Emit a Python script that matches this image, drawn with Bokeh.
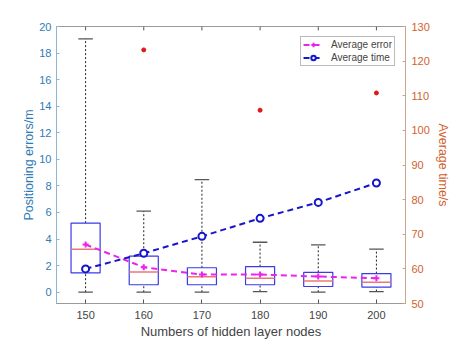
from bokeh.plotting import figure
from bokeh.models import (Range1d, LinearAxis, FixedTicker, Legend, LegendItem,
                          ColumnDataSource)
from bokeh.embed import file_html
from bokeh.resources import INLINE

# ---- data ----
nodes = [150, 160, 170, 180, 190, 200]
q1 = [1.46, 0.56, 0.56, 0.56, 0.43, 0.38]
q3 = [5.20, 2.71, 1.84, 1.93, 1.50, 1.40]
med = [3.24, 1.53, 1.16, 1.05, 0.85, 0.75]
wlo = [0.00, 0.00, 0.00, 0.05, 0.00, 0.05]
whi = [19.07, 6.10, 8.48, 3.76, 3.56, 3.24]
out_nodes = [160, 180, 200]
out_vals = [18.24, 13.70, 15.00]
avg_error = [3.59, 1.88, 1.33, 1.33, 1.18, 1.05]
avg_time = [60.0, 64.5, 69.4, 74.6, 79.2, 84.8]

BLUE_AX = "#2f7bb5"
ORANGE = "#d0622e"
FONT = "Liberation Sans"
YMIN, YMAX = -0.85, 20

pos = list(range(1, len(nodes) + 1))
out_pos = [nodes.index(n) + 1 for n in out_nodes]

p = figure(width=474, height=361, output_backend="svg", toolbar_location=None,
           x_range=Range1d(0.5, 6.5), y_range=Range1d(YMIN, YMAX))
p.min_border_left = 56
p.min_border_right = 69
p.min_border_top = 26
p.min_border_bottom = 58
p.xgrid.visible = False
p.ygrid.visible = False
p.outline_line_color = "#9a9a9a"
p.background_fill_color = "white"
p.border_fill_color = "white"

# x axis
xa = p.xaxis[0]
xa.ticker = FixedTicker(ticks=pos)
xa.major_label_overrides = {i: str(n) for i, n in zip(pos, nodes)}
xa.axis_label = "Numbers of hidden layer nodes"
xa.axis_label_text_font = FONT
xa.axis_label_text_font_size = "13px"
xa.axis_label_text_font_style = "normal"
xa.axis_label_standoff = 2
xa.major_label_text_font = FONT
xa.major_label_text_font_size = "11px"
xa.major_label_standoff = 7
xa.axis_line_color = "#9a9a9a"
xa.major_tick_line_color = "#555555"
xa.major_tick_in = 4
xa.major_tick_out = 0
xa.minor_tick_line_color = None

# top tick marks (inward from the top edge)
tick_len = (YMAX - YMIN) * 0.014
p.segment(x0=pos, x1=pos, y0=[YMAX] * len(pos), y1=[YMAX - tick_len] * len(pos),
          line_color="#555555", line_width=1)

# left axis
ya = p.yaxis[0]
ya.ticker = FixedTicker(ticks=list(range(0, 21, 2)))
ya.axis_label = "Positioning errors/m"
ya.axis_label_text_font = FONT
ya.axis_label_text_font_size = "12.5px"
ya.axis_label_text_font_style = "normal"
ya.axis_label_text_color = BLUE_AX
ya.axis_label_standoff = 0
ya.major_label_text_font = FONT
ya.major_label_text_font_size = "11px"
ya.major_label_text_color = BLUE_AX
ya.major_label_standoff = 5
ya.axis_line_color = "#8fb3d3"
ya.major_tick_line_color = "#8fb3d3"
ya.major_tick_in = 3
ya.major_tick_out = 0
ya.minor_tick_line_color = None

# right axis
p.extra_y_ranges = {"time": Range1d(50, 130)}
ra = LinearAxis(y_range_name="time", ticker=FixedTicker(ticks=list(range(50, 131, 10))))
ra.axis_label = "Average time/s"
ra.axis_label_text_font = FONT
ra.axis_label_text_font_size = "12.5px"
ra.axis_label_text_font_style = "normal"
ra.axis_label_text_color = ORANGE
ra.axis_label_standoff = 3
ra.major_label_text_font = FONT
ra.major_label_text_font_size = "11px"
ra.major_label_text_color = ORANGE
ra.major_label_standoff = 6
ra.axis_line_color = "#c9a48e"
ra.major_tick_line_color = "#c9a48e"
ra.major_tick_in = 3
ra.major_tick_out = 0
ra.minor_tick_line_color = None
p.add_layout(ra, "right")

src = ColumnDataSource(dict(x=pos, q1=q1, q3=q3, med=med, wlo=wlo, whi=whi,
                            cl=[x - 0.125 for x in pos], cr=[x + 0.125 for x in pos],
                            bl=[x - 0.25 for x in pos], br=[x + 0.25 for x in pos]))

# whiskers
p.segment(x0="x", y0="q3", x1="x", y1="whi", source=src, line_color="#222222",
          line_dash="2 2", line_width=1)
p.segment(x0="x", y0="wlo", x1="x", y1="q1", source=src, line_color="#222222",
          line_dash="2 2", line_width=1)
# caps
p.segment(x0="cl", x1="cr", y0="whi", y1="whi", source=src, line_color="#555555",
          line_width=1.3)
p.segment(x0="cl", x1="cr", y0="wlo", y1="wlo", source=src, line_color="#555555",
          line_width=1.3)
# boxes
p.quad(left="bl", right="br", bottom="q1", top="q3", source=src,
       fill_color=None, line_color="#3a3ae6", line_width=1.2)
# medians
p.segment(x0="bl", x1="br", y0="med", y1="med", source=src,
          line_color="#e87878", line_width=1.5)
# outliers
p.scatter(out_pos, out_vals, size=4, marker="circle", color="#e01818")

# average error
l1 = p.line(pos, avg_error, line_color="#ee22ee", line_width=2, line_dash="6 4")
m1 = p.scatter(pos, avg_error, marker="cross", size=6, line_color="#ee22ee",
               line_width=2)
# average time
l2 = p.line(pos, avg_time, y_range_name="time", line_color="#1515cc",
            line_width=2, line_dash="6 4")
m2 = p.scatter(pos, avg_time, y_range_name="time", marker="circle", size=7,
               line_color="#1515cc", fill_color="white", line_width=2)

legend = Legend(items=[LegendItem(label="Average error", renderers=[l1, m1]),
                       LegendItem(label="Average time", renderers=[l2, m2])],
                location="top_right")
legend.label_text_font = FONT
legend.label_text_font_size = "10px"
legend.border_line_color = "#777777"
legend.background_fill_alpha = 1
legend.glyph_width = 20
legend.glyph_height = 11
legend.label_height = 11
legend.spacing = 2
legend.padding = 2
legend.margin = 10
legend.label_standoff = 8
p.add_layout(legend, "center")

open("out.html", "w").write(file_html(p, INLINE))
